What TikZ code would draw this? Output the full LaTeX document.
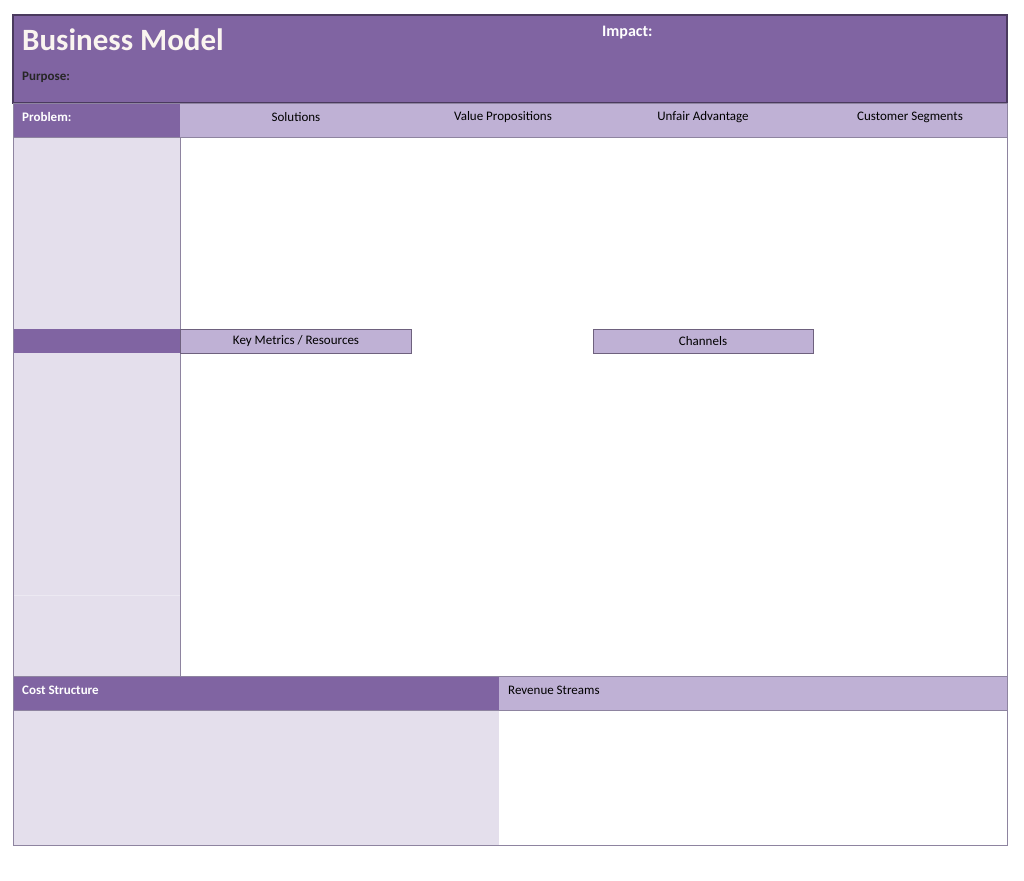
\documentclass[tikz,border=0pt]{standalone}
\usepackage{fontspec}
\setmainfont{Carlito}
\definecolor{dk}{HTML}{8064A2}
\definecolor{lt}{HTML}{BFB1D5}
\definecolor{lv}{HTML}{E4DFEC}
\definecolor{bd}{HTML}{8E84A0}
\definecolor{tb}{HTML}{4A3A5E}
\begin{document}
\begin{tikzpicture}[x=1pt,y=-1pt,
  lbl/.style={font=\fontsize{13}{15}\selectfont,inner sep=0pt},
  wlbl/.style={lbl,text=white,font=\fontsize{13}{15}\selectfont\bfseries}]
\useasboundingbox (0,0) rectangle (1024,880);
\fill[white] (0,0) rectangle (1024,880);
% title
\draw[fill=dk,draw=tb,line width=1.5pt] (13,15) rectangle (1007,103);
\node[anchor=west,inner sep=0pt,text=white!92!brown,font=\fontsize{31}{34}\selectfont\bfseries] (title) at (22,40) {Business Model};
\node[anchor=west,inner sep=0pt,font=\fontsize{13}{15}\selectfont\bfseries,text=black!85] (purpose) at (22,77) {Purpose:};
\node[anchor=west,inner sep=0pt,text=white,font=\fontsize{16}{18}\selectfont\bfseries] (impact) at (602,33) {Impact:};
% header row
\fill[dk] (13,104) rectangle (180,137);
\fill[lt] (180,104) rectangle (1007,137);
\node[wlbl,anchor=west] (problem) at (22,117) {Problem:};
\node[lbl] (sol) at (296,117) {Solutions};
\node[lbl] (vp) at (503,117) {Value Propositions};
\node[lbl] (ua) at (703,117) {Unfair Advantage};
\node[lbl] (cs) at (910,117) {Customer Segments};
% left column
\fill[lv] (13,137) rectangle (180,676);
\fill[dk] (13,329) rectangle (180,353);
\draw[lv!70!white,line width=0.8pt] (13,595) -- (180,595);
\draw[bd,line width=0.6pt] (180,137) -- (180,676);
\draw[bd,line width=0.6pt] (13,137) -- (1007,137);
% small boxes
\draw[fill=lt,draw=tb!80,line width=0.6pt] (180,329) rectangle (411,353);
\node[lbl] (km) at (296,341) {Key Metrics / Resources};
\draw[fill=lt,draw=tb!80,line width=0.6pt] (593,329) rectangle (813,353);
\node[lbl] (ch) at (703,341) {Channels};
% bottom bars
\fill[dk] (13,677) rectangle (499,710);
\fill[lt] (499,677) rectangle (1007,710);
\node[wlbl,anchor=west] (cost) at (22,690) {Cost Structure};
\node[lbl,anchor=west] (rev) at (508,690) {Revenue Streams};
\fill[lv] (13,710) rectangle (499,845);
\draw[bd,line width=0.6pt] (13,710) -- (1007,710);
\draw[bd,line width=0.6pt] (13,676.5) -- (1007,676.5);
% outer border
\draw[bd,line width=0.8pt] (13,103) rectangle (1007,845);
\end{tikzpicture}
\end{document}
